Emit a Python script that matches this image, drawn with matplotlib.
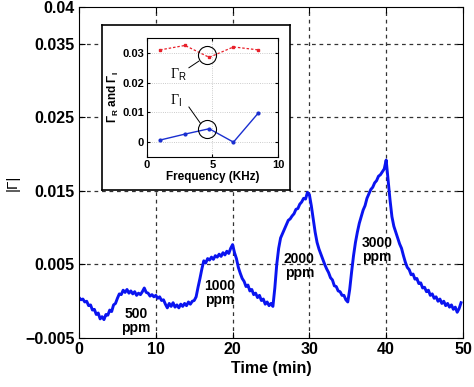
import numpy as np
import matplotlib as mpl
mpl.use('Agg')
import matplotlib.pyplot as plt

plt.rcParams['font.family'] = ['Liberation Sans', 'DejaVu Sans']
plt.rcParams['mathtext.fontset'] = 'custom'
plt.rcParams['mathtext.rm'] = 'Liberation Serif'
plt.rcParams['mathtext.sf'] = 'Liberation Sans'
plt.rcParams['mathtext.bf'] = 'Liberation Sans:bold'

step = 0.25
gamma = [
    0.0005, 0.0002, 0.0003, -0.0001, 0.0000, -0.0006, -0.0005, -0.0012, -0.0011, -0.0018,
    -0.0016, -0.0024, -0.0021, -0.0025, -0.0018, -0.0019, -0.0012, -0.0014, -0.0005, -0.0003,
    0.0004, 0.0010, 0.0009, 0.0015, 0.0012, 0.0016, 0.0011, 0.0014, 0.0010, 0.0013,
    0.0008, 0.0011, 0.0009, 0.0013, 0.0018, 0.0012, 0.0011, 0.0007, 0.0009, 0.0006,
    0.0008, 0.0004, 0.0006, 0.0001, 0.0002, -0.0004, -0.0009, -0.0003, -0.0007, -0.0002,
    -0.0008, -0.0005, -0.0009, -0.0004, -0.0007, -0.0003, -0.0006, -0.0001, -0.0004, 0.0000,
    0.0001, 0.0006, 0.0019, 0.0031, 0.0044, 0.0055, 0.0052, 0.0058, 0.0056, 0.0060,
    0.0057, 0.0062, 0.0060, 0.0064, 0.0061, 0.0066, 0.0063, 0.0068, 0.0065, 0.0072,
    0.0077, 0.0066, 0.0058, 0.0046, 0.0038, 0.0031, 0.0027, 0.0020, 0.0022, 0.0014,
    0.0016, 0.0009, 0.0011, 0.0005, 0.0008, 0.0001, 0.0003, -0.0004, -0.0001, -0.0006,
    -0.0003, -0.0007, 0.0018, 0.0050, 0.0072, 0.0086, 0.0092, 0.0098, 0.0104, 0.0110,
    0.0112, 0.0116, 0.0119, 0.0125, 0.0126, 0.0132, 0.0135, 0.0140, 0.0139, 0.0148,
    0.0145, 0.0130, 0.0112, 0.0094, 0.0080, 0.0071, 0.0064, 0.0057, 0.0050, 0.0044,
    0.0039, 0.0032, 0.0029, 0.0021, 0.0020, 0.0014, 0.0013, 0.0008, 0.0008, 0.0002,
    -0.0001, 0.0016, 0.0040, 0.0062, 0.0080, 0.0094, 0.0106, 0.0115, 0.0124, 0.0130,
    0.0140, 0.0146, 0.0152, 0.0155, 0.0161, 0.0164, 0.0170, 0.0172, 0.0176, 0.0180,
    0.0192, 0.0165, 0.0138, 0.0115, 0.0102, 0.0094, 0.0086, 0.0078, 0.0072, 0.0062,
    0.0053, 0.0046, 0.0043, 0.0036, 0.0037, 0.0030, 0.0031, 0.0024, 0.0025, 0.0018,
    0.0019, 0.0013, 0.0015, 0.0008, 0.0010, 0.0004, 0.0006, 0.0000, 0.0003, -0.0003,
    0.0000, -0.0006, -0.0003, -0.0008, -0.0005, -0.0011, -0.0008, -0.0015, -0.0010, -0.0002,
]
time = np.arange(len(gamma)) * step

conc_labels = ['500\nppm', '1000\nppm', '2000\nppm', '3000\nppm']
conc_t = [7.4, 18.3, 28.7, 38.8]
conc_y = [-0.0027, 0.0011, 0.0048, 0.0070]

# inset: reflection coefficient vs frequency
freq = [1.0, 2.9, 4.75, 6.6, 8.5]
gamma_r = [0.0310, 0.0325, 0.0285, 0.0320, 0.0310]
gamma_i = [0.0007, 0.0027, 0.0045, 0.0000, 0.0098]

fig = plt.figure(figsize=(4.74, 3.87), dpi=100)
ax = fig.add_axes([0.1667, 0.1266, 0.810, 0.855])
ax.plot(time, gamma, color='#0a14f0', lw=2.1)
ax.set_xlim(0, 50)
ax.set_ylim(-0.005, 0.04)
ax.set_xticks([0, 10, 20, 30, 40, 50])
ax.set_yticks([-0.005, 0.005, 0.015, 0.025, 0.035, 0.04])
ax.set_yticklabels(['\u22120.005', '0.005', '0.015', '0.025', '0.035', '0.04'])
ax.tick_params(direction='in', top=True, right=True, labelsize=11.5, length=4, pad=3)
for lab in ax.get_xticklabels() + ax.get_yticklabels():
    lab.set_fontweight('bold')
for v in [10, 20, 30, 40]:
    ax.axvline(v, color='#333333', lw=0.9, ls=(0, (3, 3)), zorder=0)
for v in [0.005, 0.015, 0.025, 0.035]:
    ax.axhline(v, color='#333333', lw=0.9, ls=(0, (3, 3)), zorder=0)
ax.set_xlabel('Time (min)', fontsize=11.5, fontweight='bold', labelpad=3)
ax.set_ylabel('|\u0393|', fontsize=11, va='center')
ax.yaxis.set_label_coords(-0.172, 0.47)
for lab, t, y in zip(conc_labels, conc_t, conc_y):
    ax.text(t, y, lab, ha='center', va='center', fontsize=10, fontweight='bold',
            linespacing=1.0)

# white frame around the inset
box = fig.add_axes([0.2152, 0.509, 0.3966, 0.4264])
box.set_xticks([])
box.set_yticks([])
box.set_facecolor('white')
for s in box.spines.values():
    s.set_linewidth(1.2)

ins = fig.add_axes([0.3101, 0.5943, 0.2764, 0.3075])
ins.plot(freq, gamma_r, color='#e8202a', ls=(0, (2, 1.5)), lw=0.9,
         marker='s', ms=1.8)
ins.plot(freq, gamma_i, color='#1a2fd0', lw=1.0, marker='o', ms=2.0)
ins.set_xlim(0, 10)
ins.set_ylim(-0.005, 0.035)
ins.set_xticks([0, 5, 10])
ins.set_yticks([0, 0.01, 0.02, 0.03])
ins.set_yticklabels(['0', '0.01', '0.02', '0.03'])
ins.tick_params(direction='in', top=True, right=True, labelsize=8, length=2.5, pad=2)
for lab in ins.get_xticklabels() + ins.get_yticklabels():
    lab.set_fontweight('bold')
ins.grid(True, color='#bbbbbb', lw=0.6, ls=':')
ins.set_xlabel('Frequency (KHz)', fontsize=8.5, fontweight='bold', labelpad=1)
ins.set_ylabel(r'$\mathbf{\Gamma_R}$ and $\mathbf{\Gamma_I}$', fontsize=8.5,
               fontweight='bold', labelpad=1)

ins.plot([4.56], [0.0293], marker='o', ms=13, mfc='none', mec='black', mew=0.8)
ins.plot([4.56], [0.0043], marker='o', ms=13, mfc='none', mec='black', mew=0.8)
ins.plot([3.2, 3.95], [0.0250, 0.0272], color='black', lw=0.7)
ins.plot([3.2, 4.1], [0.0118, 0.0062], color='black', lw=0.7)
ins.text(2.4, 0.0225, r'$\Gamma_\mathsf{R}$', fontsize=10, ha='center', va='center')
ins.text(2.2, 0.0140, r'$\Gamma_\mathsf{I}$', fontsize=10, ha='center', va='center')

plt.savefig('out.png', dpi=100)
